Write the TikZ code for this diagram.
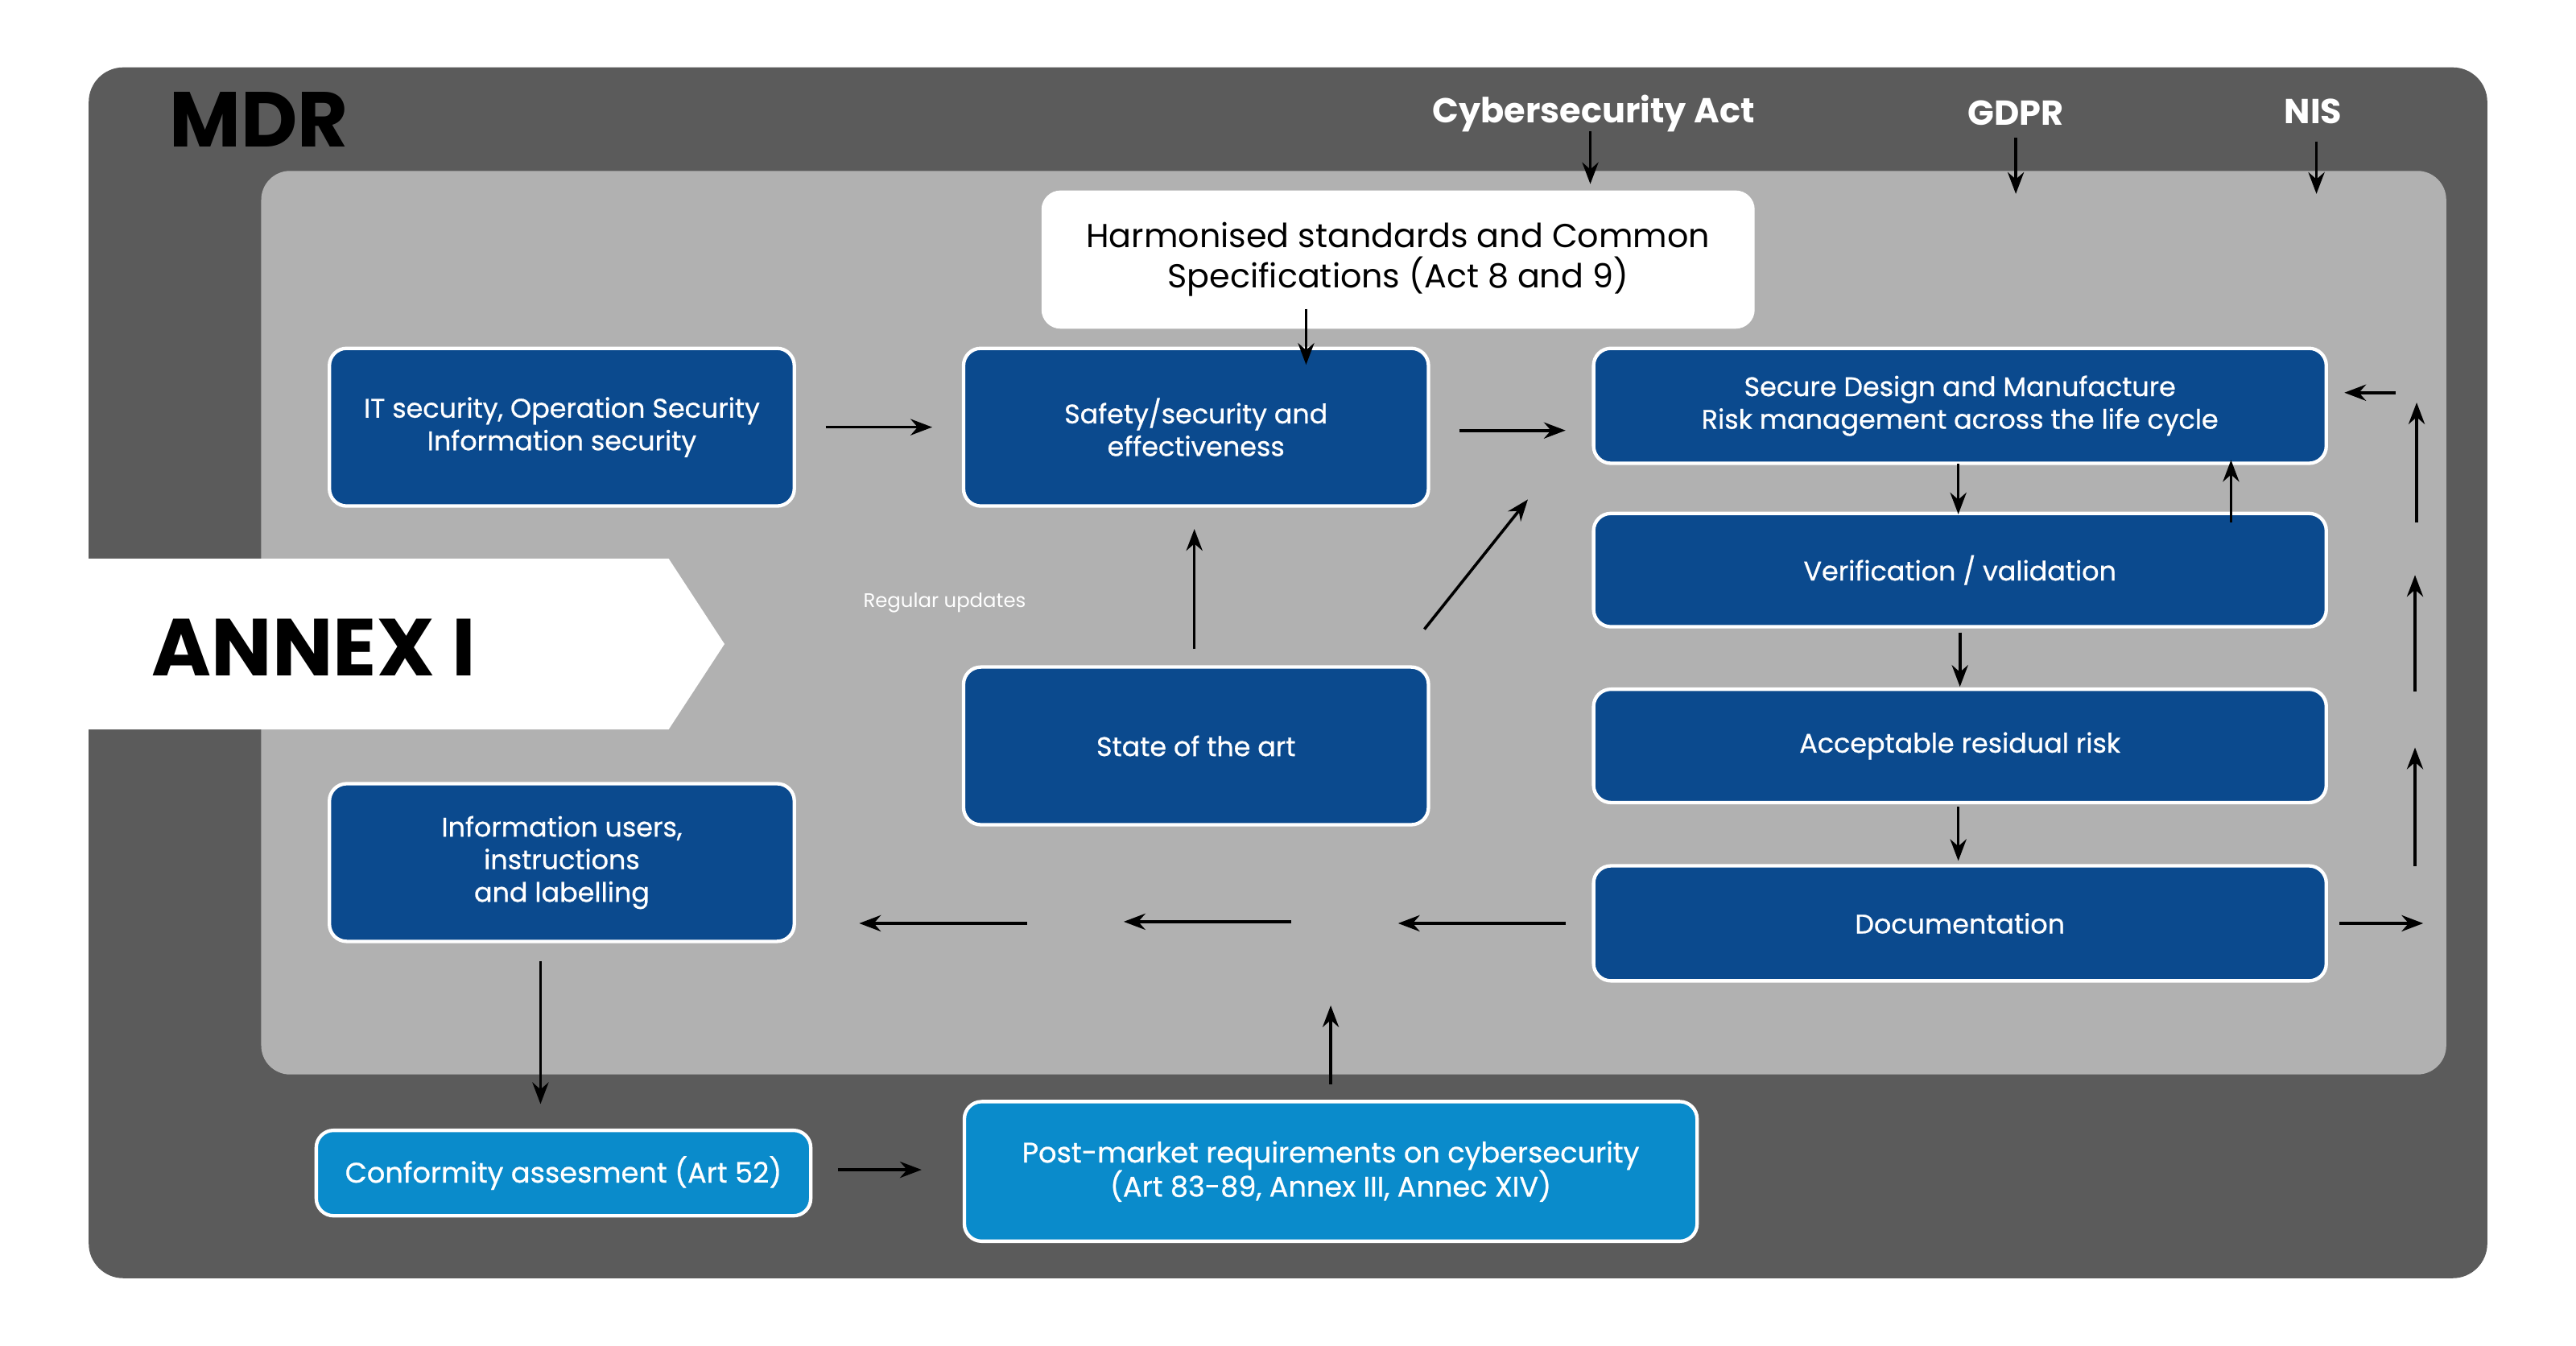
\documentclass[tikz,border=0pt]{standalone}
\usepackage{fontspec}
\setmainfont{Poppins}
\newfontfamily\medfont{Poppins}[FakeBold=0.7]
\usetikzlibrary{calc,arrows.meta,positioning}
\tikzset {>=Stealth}
\definecolor{darkbg}{HTML}{5B5B5B}
\definecolor{lightbg}{HTML}{B1B1B1}
\definecolor{navy}{HTML}{0B4A8E}
\definecolor{sky}{HTML}{0A8BCB}
\tikzset{
  box/.style={draw=white,line width=1.2pt,fill=navy,rounded corners=6pt,
    text=white,align=center,font=\medfont\fontsize{9.3}{11.3}\selectfont},
  pmbox/.style={box,fill=sky},
  arr/.style={->,line width=1pt},
  top/.style={text=white,font=\bfseries\fontsize{12}{14}\selectfont}
}

\begin{document}
\begin{tikzpicture}[x=0.2mm,y=-0.2mm]
\useasboundingbox (0,0) rectangle (1568,819);
% frames
\fill[darkbg,rounded corners=12pt] (54,41) rectangle (1514,778);
\fill[lightbg,rounded corners=10pt] (159,104) rectangle (1489,654);
\node[anchor=west,font=\bfseries\fontsize{27}{30}\selectfont] (mdr) at (97,73) {MDR};
% annex banner
\fill[white] (54,340) -- (407,340) -- (441,392) -- (407,444) -- (54,444) -- cycle;
\node[font=\bfseries\fontsize{28}{31}\selectfont] (annex) at (191,394) {ANNEX I};
\node[text=white,font=\fontsize{6.8}{8}\selectfont] (upd) at (575,367) {Regular updates};
% regulations
\node[top] (csa) at (970,69) {Cybersecurity Act};
\node[top] (gdpr) at (1227,69) {GDPR};
\node[top] (nis) at (1408,68) {NIS};
% boxes
\node[box,fill=white,draw=white,text=black,minimum width=432*0.2mm,minimum height=82*0.2mm,
      font=\fontsize{11.5}{14}\selectfont] (harm) at (851,158)
  {Harmonised standards and Common\\Specifications (Act 8 and 9)};
\node[box,minimum width=283*0.2mm,minimum height=96*0.2mm] (itsec) at (342,260)
  {IT security, Operation Security\\Information security};
\node[box,minimum width=283*0.2mm,minimum height=96*0.2mm] (safe) at (728,260)
  {Safety/security and\\effectiveness};
\node[box,minimum width=446*0.2mm,minimum height=70*0.2mm] (design) at (1193,247)
  {Secure Design and Manufacture\\Risk management across the life cycle};
\node[box,minimum width=446*0.2mm,minimum height=69*0.2mm] (verif) at (1193,347)
  {Verification / validation};
\node[box,minimum width=446*0.2mm,minimum height=69*0.2mm] (resid) at (1193,454)
  {Acceptable residual risk};
\node[box,minimum width=446*0.2mm,minimum height=70*0.2mm] (doc) at (1193,562)
  {Documentation};
\node[box,minimum width=283*0.2mm,minimum height=96*0.2mm] (art) at (728,454)
  {State of the art};
\node[box,minimum width=283*0.2mm,minimum height=96*0.2mm] (info) at (342,525)
  {Information users,\\instructions\\and labelling};
\node[pmbox,minimum width=301*0.2mm,minimum height=52*0.2mm,font=\medfont\fontsize{9.8}{11.8}\selectfont] (conf) at (343,714)
  {Conformity assesment (Art 52)};
\node[pmbox,minimum width=446*0.2mm,minimum height=85*0.2mm,font=\medfont\fontsize{9.8}{11.8}\selectfont] (post) at (810,713)
  {Post-market requirements on cybersecurity\\(Art 83-89, Annex III, Annec XIV)};
% arrows
\draw[arr] (968,80) -- (968,112);
\draw[arr] (1227,84) -- (1227,118);
\draw[arr] (1410,86) -- (1410,118);
\draw[arr] (795,188) -- (795,222);
\draw[arr] ($(itsec.east)+(18,0)$) -- ($(safe.west)+(-18,0)$);
\draw[arr] ($(safe.east)+(18,2)$) -- ($(design.west)+(-16,15)$);
\draw[arr] (727,395) -- (727,322);
\draw[arr] (867,383) -- (930,304);
\draw[arr] (1192,282) -- (1192,313);
\draw[arr] (1358,318) -- (1358,280);
\draw[arr] (1193,385) -- (1193,418);
\draw[arr] (1192,491) -- (1192,524);
\draw[arr] (953,562) -- (851,562);
\draw[arr] (786,561) -- (684,561);
\draw[arr] (625,562) -- (523,562);
\draw[arr] (329,585) -- (329,672);
\draw[arr] (510,712) -- (561,712);
\draw[arr] (810,660) -- (810,612);
\draw[arr] (1424,562) -- (1475,562);
\draw[arr] (1470,527) -- (1470,455);
\draw[arr] (1470,421) -- (1470,350);
\draw[arr] (1471,318) -- (1471,245);
\draw[arr] (1458,239) -- (1427,239);
\end{tikzpicture}
\end{document}
